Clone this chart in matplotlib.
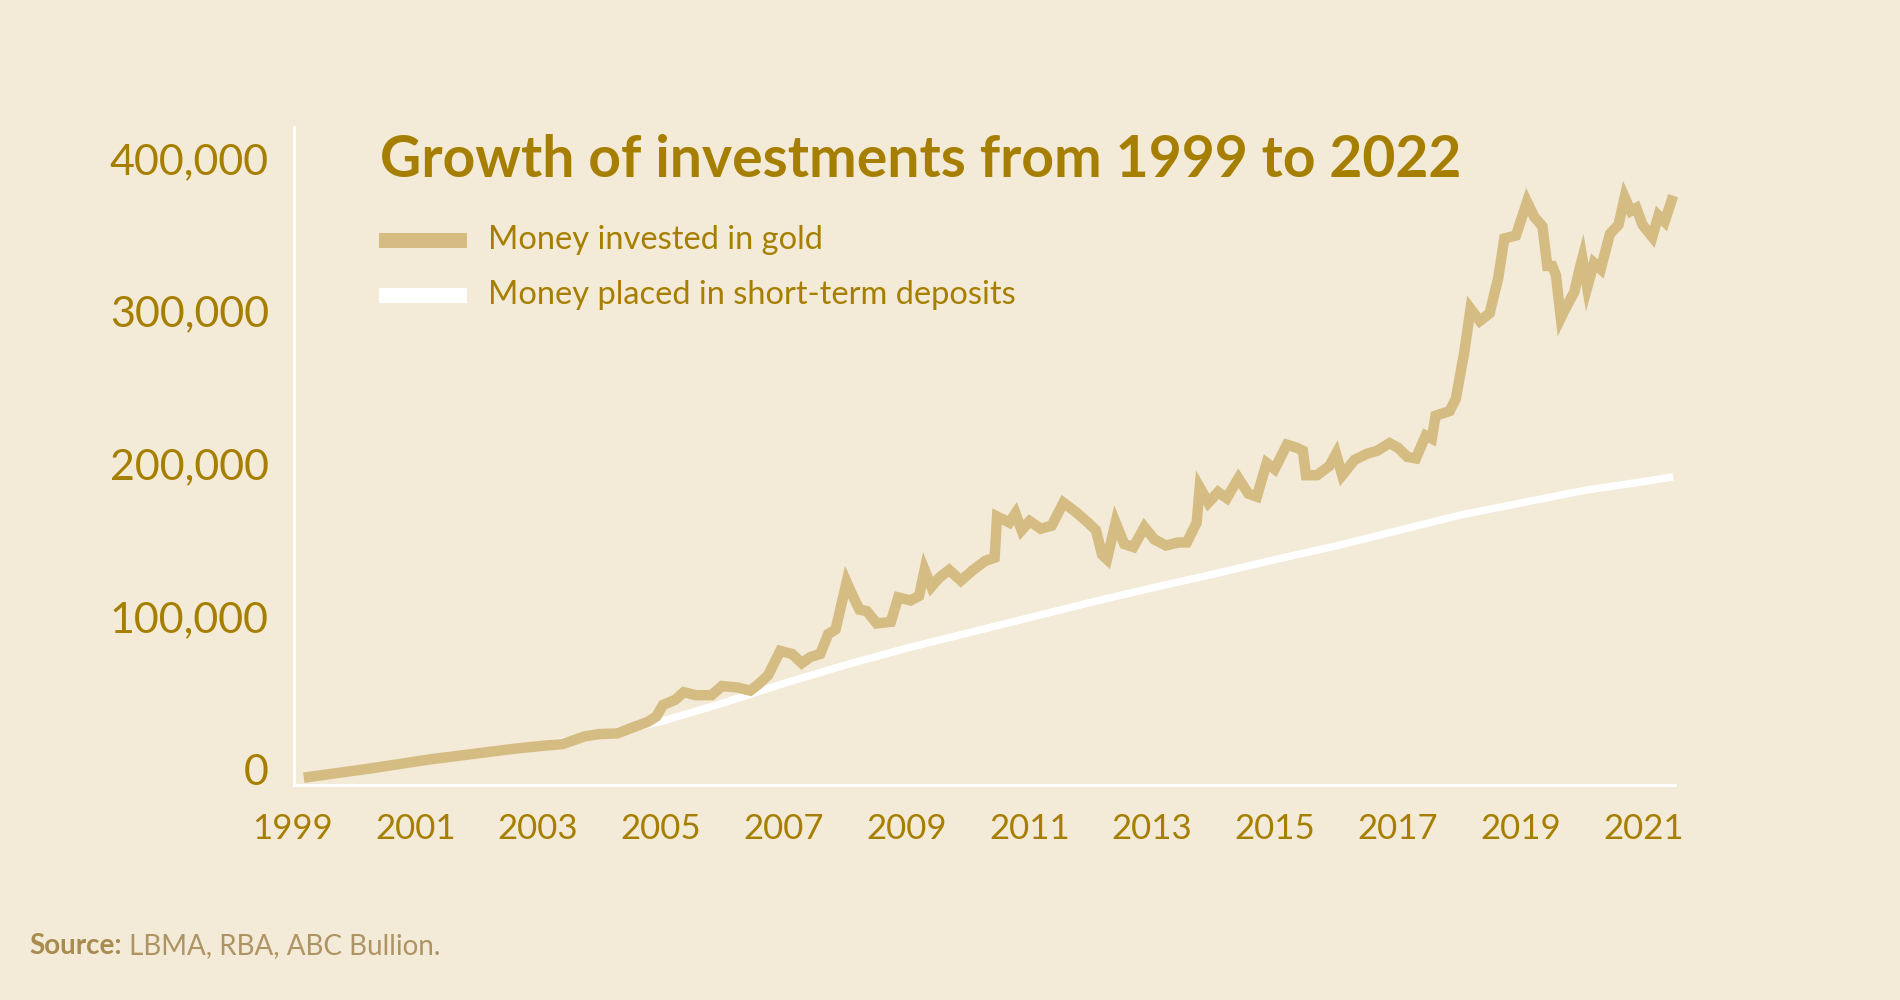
import matplotlib
matplotlib.use("Agg")
import matplotlib.pyplot as plt
import matplotlib.transforms as mtransforms
from matplotlib.patches import Rectangle

# ---------------- data ----------------
gold_years = [1999.16, 2000.24, 2001.22, 2002.2, 2002.6, 2003.09, 2003.38, 2003.73, 2003.97,
              2004.27, 2004.46, 2004.76, 2004.9, 2005.01, 2005.21, 2005.35, 2005.54, 2005.8,
              2005.97, 2006.23, 2006.43, 2006.56, 2006.72, 2006.92, 2007.11, 2007.27, 2007.41,
              2007.57, 2007.7, 2007.82, 2008.0, 2008.1, 2008.21, 2008.33, 2008.49, 2008.72,
              2008.84, 2009.04, 2009.18, 2009.27, 2009.38, 2009.51, 2009.67, 2009.86, 2010.06,
              2010.26, 2010.41, 2010.45, 2010.65, 2010.75, 2010.85, 2010.98, 2011.16, 2011.34,
              2011.53, 2011.73, 2011.93, 2012.06, 2012.16, 2012.24, 2012.38, 2012.52, 2012.67,
              2012.85, 2013.01, 2013.2, 2013.4, 2013.54, 2013.7, 2013.75, 2013.89, 2014.05,
              2014.19, 2014.38, 2014.54, 2014.68, 2014.84, 2014.97, 2015.17, 2015.33, 2015.43,
              2015.48, 2015.66, 2015.86, 2015.97, 2016.07, 2016.27, 2016.47, 2016.64, 2016.84,
              2016.98, 2017.13, 2017.27, 2017.43, 2017.53, 2017.59, 2017.82, 2017.92, 2018.06,
              2018.16, 2018.31, 2018.47, 2018.61, 2018.71, 2018.9, 2019.08, 2019.2, 2019.33,
              2019.41, 2019.49, 2019.55, 2019.63, 2019.69, 2019.85, 2019.94, 2019.98, 2020.06,
              2020.17, 2020.28, 2020.43, 2020.57, 2020.67, 2020.77, 2020.86, 2020.96, 2021.12,
              2021.22, 2021.32, 2021.46]
gold_values = [0, 6000, 12000, 17000, 19000, 21000, 22000, 27000, 28500,
               29000, 32000, 36500, 40000, 47600, 51000, 56000, 54000, 54000,
               60000, 59000, 57000, 61000, 67000, 83000, 81000, 75000, 79000,
               81000, 94000, 97000, 128000, 119000, 110000, 109000, 101000, 102000,
               118000, 116000, 119000, 136000, 125000, 131000, 136000, 129000, 136000,
               142000, 144000, 171000, 167000, 173000, 162000, 168000, 163000, 165000,
               180000, 174000, 167000, 162000, 146000, 143000, 167000, 153000, 151000,
               164000, 156000, 152000, 154000, 154000, 167000, 190000, 180000, 187000,
               183000, 196000, 186000, 184000, 206000, 202000, 218000, 216000, 214000,
               198000, 198000, 204000, 212000, 198000, 208000, 212000, 214000, 219000,
               216000, 210000, 209000, 224000, 222000, 237000, 240000, 248000, 279000,
               307000, 299000, 304000, 327000, 353000, 355000, 377000, 367000, 361000,
               335000, 335000, 329000, 301000, 306000, 318000, 334000, 340000, 321000,
               337000, 333000, 356000, 362000, 380000, 371000, 373000, 362000, 354000,
               368000, 364000, 381000]

deposit_years = [1999.16, 2000, 2001, 2002, 2003, 2004, 2005, 2006, 2007, 2008, 2009,
                 2010, 2011, 2012, 2013, 2014, 2015, 2016, 2017, 2018,
                 2019, 2020, 2021, 2021.46]
deposit_values = [0, 5000, 11000, 16000, 21000, 28000, 37000, 49000, 62000, 74000, 85000,
                  95000, 105000, 115000, 124500, 133500, 143000, 152000, 162000,
                  172000, 180000, 188000, 194000, 197000]

x_ticks = [1999, 2001, 2003, 2005, 2007, 2009, 2011, 2013, 2015, 2017, 2019, 2021]
y_ticks = [0, 100000, 200000, 300000, 400000]
y_tick_labels = ["0", "100,000", "200,000", "300,000", "400,000"]

title = "Growth of investments from 1999 to 2022"
series_names = ["Money invested in gold", "Money placed in short-term deposits"]
source_bold = "Source:"
source_rest = " LBMA, RBA, ABC Bullion."

# ---------------- style ----------------
BG = "#F3EAD7"
GOLD_TEXT = "#A67F00"
GOLD_LINE = "#D4BC82"
WHITE = "#FFFFFF"
SRC = "#A88B4E"

plt.rcParams['font.family'] = ['Lato', 'DejaVu Sans']

fig = plt.figure(figsize=(19, 10), dpi=100, facecolor=BG)
ax = fig.add_axes([0.1547, 0.215, 0.7269, 0.658])
ax.set_facecolor(BG)

ax.plot(deposit_years, deposit_values, color=WHITE, lw=5.4, solid_capstyle='butt', zorder=2)
ax.plot(gold_years, gold_values, color=GOLD_LINE, lw=7.5, solid_joinstyle='miter',
        solid_capstyle='butt', zorder=3, clip_on=False)

ax.set_xlim(1999.1, 2021.49)
ax.set_ylim(-4800, 426000)

for s in ["top", "right"]:
    ax.spines[s].set_visible(False)
for s in ["left", "bottom"]:
    ax.spines[s].set_color(WHITE)
    ax.spines[s].set_linewidth(2.2)

ax.set_xticks(x_ticks)
ax.set_xticklabels([str(y) for y in x_ticks])
ax.set_yticks(y_ticks)
ax.set_yticklabels(y_tick_labels)
ax.tick_params(axis='x', length=0, pad=20, labelsize=25, labelcolor=GOLD_TEXT)
ax.tick_params(axis='y', length=0, pad=18, labelsize=31, labelcolor=GOLD_TEXT)
offset = mtransforms.ScaledTranslation(0, 8.5 / 100, fig.dpi_scale_trans)
for lab in ax.get_yticklabels():
    lab.set_transform(lab.get_transform() + offset)
xoff = mtransforms.ScaledTranslation(-1.5 / 100, 0, fig.dpi_scale_trans)
for lab in ax.get_xticklabels():
    lab.set_transform(lab.get_transform() + xoff)

# title
fig.text(380 / 1900, 1 - 177 / 1000, title, fontsize=41, fontweight='bold',
         color=GOLD_TEXT, va='baseline', ha='left')

# legend
patch_colors = [GOLD_LINE, WHITE]
patch_y = [240, 295]
for name, c, py in zip(series_names, patch_colors, patch_y):
    fig.patches.append(Rectangle((379 / 1900, 1 - (py + 7.5) / 1000), 88 / 1900, 15 / 1000,
                                 transform=fig.transFigure, facecolor=c, edgecolor='none'))
    fig.text(488 / 1900, 1 - py / 1000, name, fontsize=23.5, color=GOLD_TEXT,
             va='center', ha='left')

# source
t = fig.text(29 / 1900, 1 - 946 / 1000, source_bold, fontsize=20, fontweight='bold',
             color=SRC, va='center', ha='left')
fig.canvas.draw()
bb = t.get_window_extent()
fig.text(bb.x1 / 1900, 1 - 946 / 1000, source_rest, fontsize=20, fontweight='normal',
         color="#AE9462", va='center', ha='left')

fig.savefig("out.png", dpi=100, facecolor=BG)
